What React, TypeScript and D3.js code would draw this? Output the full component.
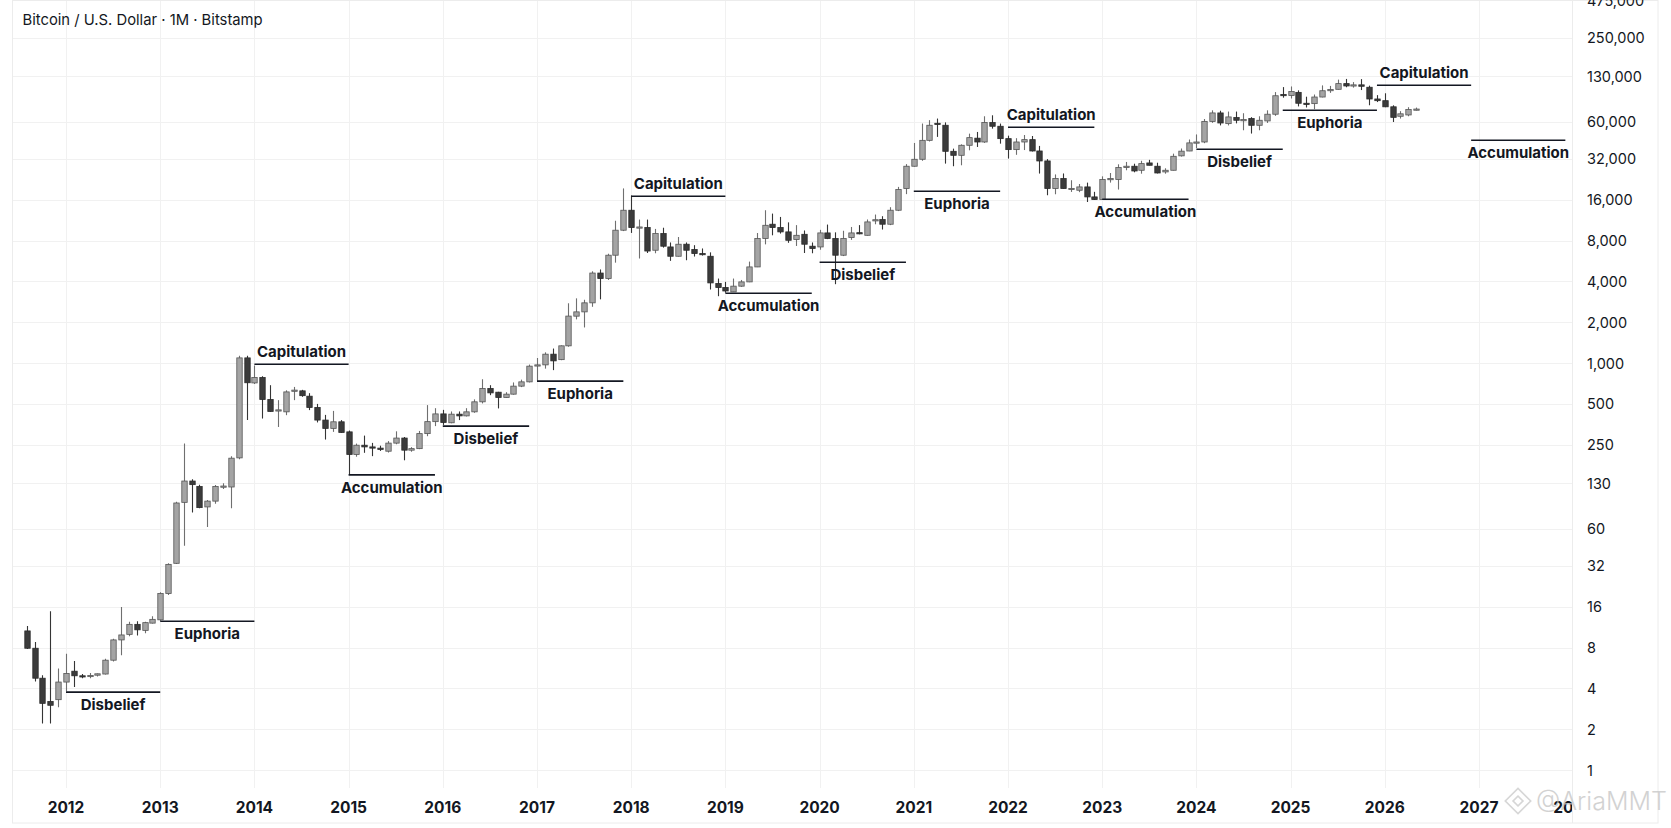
import React from "react";
import * as d3 from "d3";

const W = 1671;
const H = 828;

const chartTitle = "Bitcoin / U.S. Dollar · 1M · Bitstamp";

// Monthly candles: [month, open, high, low, close]
const monthlyOHLC: [string, number, number, number, number][] = [
  ["2011-08", 10.6, 11.5, 7.8, 7.9],
  ["2011-09", 7.9, 8.8, 4.5, 4.75],
  ["2011-10", 4.75, 5.0, 2.2, 3.1],
  ["2011-11", 3.2, 14.8, 2.2, 3.0],
  ["2011-12", 3.3, 5.6, 2.9, 4.45],
  ["2012-01", 4.45, 7.2, 3.8, 5.15],
  ["2012-02", 5.35, 6.35, 4.1, 4.95],
  ["2012-03", 4.95, 5.1, 4.75, 4.9],
  ["2012-04", 4.9, 5.2, 4.75, 4.98],
  ["2012-05", 5.0, 5.15, 4.9, 5.12],
  ["2012-06", 5.1, 6.6, 5.05, 6.45],
  ["2012-07", 6.45, 9.3, 6.3, 9.1],
  ["2012-08", 9.1, 15.9, 7.0, 9.9],
  ["2012-09", 10.0, 12.4, 9.7, 11.85],
  ["2012-10", 11.85, 12.5, 9.8, 10.8],
  ["2012-11", 10.7, 12.4, 10.2, 12.2],
  ["2012-12", 12.1, 13.6, 12.0, 12.9],
  ["2013-01", 12.8, 20.4, 12.6, 20.0],
  ["2013-02", 20.0, 33.5, 19.5, 32.8],
  ["2013-03", 33.4, 95, 33, 93],
  ["2013-04", 94, 255, 45, 135],
  ["2013-05", 135, 139, 79, 127],
  ["2013-06", 123, 127, 85, 86],
  ["2013-07", 87, 98, 62, 96],
  ["2013-08", 96, 126, 92, 123],
  ["2013-09", 123, 130, 118, 124],
  ["2013-10", 122, 206, 85, 199],
  ["2013-11", 200, 1130, 195, 1092],
  ["2013-12", 1092, 1130, 380, 716],
  ["2014-01", 714, 960, 700, 783],
  ["2014-02", 783, 800, 390, 539],
  ["2014-03", 539, 687, 437, 440],
  ["2014-04", 445, 533, 338, 452],
  ["2014-05", 437, 630, 413, 613],
  ["2014-06", 625, 667, 533, 632],
  ["2014-07", 624, 635, 564, 575],
  ["2014-08", 570, 600, 450, 471],
  ["2014-09", 471, 500, 365, 380],
  ["2014-10", 380, 415, 273, 330],
  ["2014-11", 330, 444, 311, 369],
  ["2014-12", 369, 380, 306, 308],
  ["2015-01", 311, 318, 150, 212],
  ["2015-02", 212, 255, 204, 248],
  ["2015-03", 248, 292, 218, 241],
  ["2015-04", 241, 258, 206, 236],
  ["2015-05", 236, 246, 225, 231],
  ["2015-06", 224, 266, 219, 257],
  ["2015-07", 257, 314, 252, 280],
  ["2015-08", 280, 285, 192, 228],
  ["2015-09", 228, 240, 222, 234],
  ["2015-10", 234, 316, 232, 302],
  ["2015-11", 302, 490, 289, 370],
  ["2015-12", 370, 465, 343, 422],
  ["2016-01", 422, 452, 350, 365],
  ["2016-02", 363, 440, 360, 420],
  ["2016-03", 420, 440, 380, 408],
  ["2016-04", 408, 465, 404, 437],
  ["2016-05", 437, 540, 430, 518],
  ["2016-06", 518, 760, 504, 650],
  ["2016-07", 650, 687, 580, 603],
  ["2016-08", 610, 614, 463, 558],
  ["2016-09", 558, 610, 555, 590],
  ["2016-10", 590, 720, 585, 676],
  ["2016-11", 676, 755, 665, 727],
  ["2016-12", 727, 975, 720, 949],
  ["2017-01", 955, 1090, 740, 970],
  ["2017-02", 970, 1200, 910, 1163],
  ["2017-03", 1163, 1280, 887, 1038],
  ["2017-04", 1060, 1350, 1050, 1340],
  ["2017-05", 1340, 2760, 1320, 2220],
  ["2017-06", 2217, 3000, 2100, 2385],
  ["2017-07", 2385, 2930, 1830, 2780],
  ["2017-08", 2780, 4750, 2600, 4610],
  ["2017-09", 4610, 4900, 2950, 4200],
  ["2017-10", 4200, 6400, 4100, 6240],
  ["2017-11", 6240, 11200, 5500, 9540],
  ["2017-12", 9540, 19400, 9400, 13390],
  ["2018-01", 13390, 17200, 9110, 9980],
  ["2018-02", 9980, 11430, 5900, 10080],
  ["2018-03", 9980, 11430, 6480, 6700],
  ["2018-04", 6790, 9750, 6450, 9010],
  ["2018-05", 9010, 9950, 7100, 7270],
  ["2018-06", 7180, 7750, 5670, 6130],
  ["2018-07", 6130, 8500, 6100, 7520],
  ["2018-08", 7520, 7750, 5730, 6790],
  ["2018-09", 6870, 7400, 6100, 6420],
  ["2018-10", 6420, 7000, 6200, 6340],
  ["2018-11", 6130, 6550, 3485, 3900],
  ["2018-12", 3860, 4200, 3112, 3605],
  ["2019-01", 3605, 3970, 3300, 3400],
  ["2019-02", 3350, 4200, 3350, 3690],
  ["2019-03", 3690, 4100, 3650, 3967],
  ["2019-04", 3967, 5600, 3950, 5115],
  ["2019-05", 5115, 9100, 5100, 8280],
  ["2019-06", 8280, 13390, 7500, 10370],
  ["2019-07", 10560, 12650, 8750, 9980],
  ["2019-08", 9980, 11950, 9010, 9270],
  ["2019-09", 9270, 10900, 7700, 8040],
  ["2019-10", 8140, 10400, 7300, 8750],
  ["2019-11", 8900, 9500, 6480, 7520],
  ["2019-12", 7270, 7750, 6450, 6990],
  ["2020-01", 7180, 9600, 6850, 9110],
  ["2020-02", 9110, 10500, 8200, 8280],
  ["2020-03", 8280, 9200, 3815, 6240],
  ["2020-04", 6240, 9450, 6150, 8280],
  ["2020-05", 8420, 10080, 8100, 9110],
  ["2020-06", 9150, 10400, 8900, 9080],
  ["2020-07", 8750, 11450, 8700, 10980],
  ["2020-08", 11200, 12450, 10550, 11400],
  ["2020-09", 11430, 12100, 9650, 10560],
  ["2020-10", 10560, 14100, 10400, 13390],
  ["2020-11", 13390, 19900, 13200, 19020],
  ["2020-12", 19350, 29300, 17600, 28260],
  ["2021-01", 28260, 41950, 28100, 31800],
  ["2021-02", 31800, 58350, 31000, 43860],
  ["2021-03", 43860, 61800, 43000, 56650],
  ["2021-04", 58600, 63500, 46500, 57900],
  ["2021-05", 56650, 59500, 29540, 36410],
  ["2021-06", 36410, 38100, 28260, 34020],
  ["2021-07", 34020, 41000, 28720, 40330],
  ["2021-08", 40330, 49150, 37030, 45920],
  ["2021-09", 45500, 50570, 39190, 42650],
  ["2021-10", 42650, 66000, 42000, 59300],
  ["2021-11", 59300, 67100, 53500, 55700],
  ["2021-12", 55700, 58300, 41460, 45150],
  ["2022-01", 45150, 47500, 32170, 37470],
  ["2022-02", 37470, 45500, 34300, 42650],
  ["2022-03", 42650, 48000, 37200, 44390],
  ["2022-04", 44390, 47200, 36300, 36610],
  ["2022-05", 36610, 39900, 24950, 30910],
  ["2022-06", 30910, 31900, 17270, 19350],
  ["2022-07", 19350, 24600, 17560, 22930],
  ["2022-08", 22930, 25000, 19300, 19350],
  ["2022-09", 19350, 22280, 18270, 19400],
  ["2022-10", 18800, 20900, 18200, 19890],
  ["2022-11", 19890, 21400, 15400, 16790],
  ["2022-12", 16790, 18300, 15950, 16040],
  ["2023-01", 16040, 23800, 16000, 22540],
  ["2023-02", 22540, 25200, 21400, 22930],
  ["2023-03", 22540, 29200, 19020, 27620],
  ["2023-04", 27620, 30390, 26390, 28260],
  ["2023-05", 28260, 29500, 25500, 26080],
  ["2023-06", 26390, 31000, 24900, 29540],
  ["2023-07", 29880, 31500, 28700, 28720],
  ["2023-08", 28260, 30000, 25000, 25200],
  ["2023-09", 25660, 27300, 24900, 26390],
  ["2023-10", 26390, 35000, 26300, 33450],
  ["2023-11", 33700, 38200, 33300, 36500],
  ["2023-12", 36600, 44500, 36500, 42000],
  ["2024-01", 42000, 48500, 38500, 42650],
  ["2024-02", 42650, 63000, 41800, 60500],
  ["2024-03", 60500, 73000, 59000, 69830],
  ["2024-04", 69830, 72500, 56500, 58890],
  ["2024-05", 58250, 71500, 56500, 65260],
  ["2024-06", 64540, 71500, 58500, 61660],
  ["2024-07", 61660, 69500, 52040, 62400],
  ["2024-08", 63440, 65000, 49200, 56630],
  ["2024-09", 56630, 66000, 52040, 61660],
  ["2024-10", 60970, 73000, 58900, 68330],
  ["2024-11", 68330, 99500, 66500, 93500],
  ["2024-12", 95500, 108300, 90500, 94000],
  ["2025-01", 94000, 109500, 89200, 100500],
  ["2025-02", 99000, 102500, 78000, 82300],
  ["2025-03", 82300, 92000, 76600, 81800],
  ["2025-04", 81800, 95500, 74500, 91500],
  ["2025-05", 91500, 111500, 91000, 101800],
  ["2025-06", 101800, 110500, 98200, 104000],
  ["2025-07", 104300, 123000, 104000, 114900],
  ["2025-08", 114900, 124400, 108000, 110400],
  ["2025-09", 110400, 117900, 107300, 112500],
  ["2025-10", 112500, 124000, 103000, 109800],
  ["2025-11", 108000, 111000, 79550, 88500],
  ["2025-12", 88500, 94500, 84000, 86000],
  ["2026-01", 86000, 97500, 77000, 77500],
  ["2026-02", 77500, 79500, 59900, 64800],
  ["2026-03", 66000, 72000, 63500, 68800],
  ["2026-04", 67500, 77000, 66000, 74000],
  ["2026-05", 74000, 76500, 72800, 74600],
];

const priceTicks = [
  1, 2, 4, 8, 16, 32, 60, 130, 250, 500, 1000, 2000, 4000, 8000, 16000,
  32000, 60000, 130000, 250000, 475000,
];

const yearTicks = [
  2012, 2013, 2014, 2015, 2016, 2017, 2018, 2019, 2020, 2021, 2022, 2023,
  2024, 2025, 2026, 2027, 2028,
];

// [label, start month, end month, price level, text side]
const phases: [string, string, string, number, string][] = [
  ["Disbelief", "2012-01", "2013-01", 3.75, "below"],
  ["Euphoria", "2013-01", "2014-01", 12.5, "below"],
  ["Capitulation", "2014-01", "2015-01", 980, "above"],
  ["Accumulation", "2015-01", "2015-12", 150, "below"],
  ["Disbelief", "2016-01", "2016-12", 343, "below"],
  ["Euphoria", "2017-01", "2017-12", 736, "below"],
  ["Capitulation", "2018-01", "2019-01", 16980, "above"],
  ["Accumulation", "2019-01", "2019-12", 3275, "below"],
  ["Disbelief", "2020-01", "2020-12", 5540, "below"],
  ["Euphoria", "2021-01", "2021-12", 18490, "below"],
  ["Capitulation", "2022-01", "2022-12", 54750, "above"],
  ["Accumulation", "2023-01", "2023-12", 16140, "below"],
  ["Disbelief", "2024-01", "2024-12", 37660, "below"],
  ["Euphoria", "2024-12", "2025-12", 73100, "below"],
  ["Capitulation", "2025-12", "2026-12", 111800, "above"],
  ["Accumulation", "2026-12", "2027-12", 43900, "below"],
];

const FONT = "Inter, 'Noto Sans', Roboto, sans-serif";
const TEXT = "#131722";
const GRID = "#f1f1f1";

const PLOT_L = 12.5;
const PLOT_R = 1572;
const PLOT_B = 788;

const monthIndex = (s: string) => {
  const [y, m] = s.split("-").map(Number);
  return (y - 2012) * 12 + (m - 1);
};

export default function App() {
  const x = d3.scaleLinear().domain([0, 192]).range([66, 66 + 192 * 7.85]);
  const y = d3.scaleLog().domain([1, 475000]).range([770, 0]);
  const fmt = d3.format(",");
  const bodyW = 5.4;

  return (
    <svg
      width={W}
      height={H}
      viewBox={`0 0 ${W} ${H}`}
      style={{ position: "absolute", left: 0, top: 0, background: "#fff" }}
      fontFamily={FONT}
    >
      <defs>
        <clipPath id="plotClip">
          <rect x={PLOT_L} y={0} width={PLOT_R - PLOT_L} height={PLOT_B} />
        </clipPath>
        <clipPath id="timeClip">
          <rect x={PLOT_L} y={PLOT_B} width={PLOT_R - PLOT_L} height={H - PLOT_B} />
        </clipPath>
      </defs>
      <rect x={0} y={0} width={W} height={H} fill="#fff" />

      {/* grid */}
      <g clipPath="url(#plotClip)">
        {priceTicks.map((t) => (
          <line
            key={"h" + t}
            x1={PLOT_L}
            x2={PLOT_R}
            y1={Math.round(y(t)) + 0.5}
            y2={Math.round(y(t)) + 0.5}
            stroke={GRID}
            strokeWidth={1}
          />
        ))}
        {yearTicks.map((yr) => {
          const xx = Math.round(x((yr - 2012) * 12)) + 0.5;
          return (
            <line key={"v" + yr} x1={xx} x2={xx} y1={0} y2={PLOT_B} stroke={GRID} strokeWidth={1} />
          );
        })}
      </g>

      {/* frame */}
      <rect x={PLOT_L} y={0.5} width={1658 - PLOT_L} height={823 - 0.5} fill="none" stroke="#ececec" strokeWidth={1} />
      <line x1={PLOT_R + 0.5} x2={PLOT_R + 0.5} y1={0} y2={823} stroke="#ececec" strokeWidth={1} />

      {/* candles */}
      <g clipPath="url(#plotClip)">
        {monthlyOHLC.map(([m, o, h, l, c]) => {
          const cx = x(monthIndex(m));
          const up = c >= o;
          const top = y(Math.max(o, c));
          const bot = y(Math.min(o, c));
          const bh = Math.max(1.2, bot - top);
          const wx = Math.round(cx) + 0.5;
          return (
            <g key={m}>
              <line
                x1={wx}
                x2={wx}
                y1={y(h)}
                y2={y(l)}
                stroke={up ? "#6f6f6f" : "#353535"}
                strokeWidth={1.1}
              />
              <rect
                x={wx - bodyW / 2}
                y={top}
                width={bodyW}
                height={bh}
                fill={up ? "#a4a4a4" : "#3b3b3b"}
                stroke={up ? "#555" : "#2a2a2a"}
                strokeWidth={0.8}
              />
            </g>
          );
        })}
      </g>

      {/* phase annotations */}
      <g clipPath="url(#plotClip)">
        {phases.map(([label, s, e, p, side], i) => {
          const x1 = x(monthIndex(s));
          const x2 = x(monthIndex(e));
          const ly = y(p);
          const ty = side === "above" ? ly - 7 : ly + 18;
          return (
            <g key={"p" + i}>
              <line x1={x1} x2={x2} y1={ly} y2={ly} stroke={TEXT} strokeWidth={1.6} />
              <text
                x={(x1 + x2) / 2}
                y={ty}
                textAnchor="middle"
                fontSize={15}
                fontWeight={700}
                fill={TEXT}
              >
                {label}
              </text>
            </g>
          );
        })}
      </g>

      {/* title */}
      <text x={22.5} y={25} fontSize={14.8} fill={TEXT}>
        {chartTitle}
      </text>

      {/* price axis */}
      <g>
        {priceTicks.map((t) => (
          <text
            key={"yl" + t}
            x={1587}
            y={y(t)}
            dominantBaseline="central"
            fontSize={14.5}
            fill={TEXT}
          >
            {fmt(t)}
          </text>
        ))}
      </g>

      {/* time axis */}
      <g clipPath="url(#timeClip)">
        {yearTicks.map((yr) => (
          <text
            key={"xl" + yr}
            x={x((yr - 2012) * 12)}
            y={807}
            textAnchor="middle"
            dominantBaseline="central"
            fontSize={15.5}
            fontWeight={700}
            fill={TEXT}
          >
            {yr}
          </text>
        ))}
      </g>

      {/* watermark */}
      <g opacity={0.75}>
        <g transform="translate(1518,801)" fill="none" stroke="#c9c9c9" strokeWidth={1.6}>
          <rect x={-9} y={-9} width={18} height={18} transform="rotate(45)" />
          <rect x={-3.5} y={-3.5} width={7} height={7} transform="rotate(45)" />
        </g>
        <text x={1536} y={810} fontSize={25} fontWeight={300} fill="#c4c4c4">
          @AriaMMT
        </text>
      </g>
    </svg>
  );
}
